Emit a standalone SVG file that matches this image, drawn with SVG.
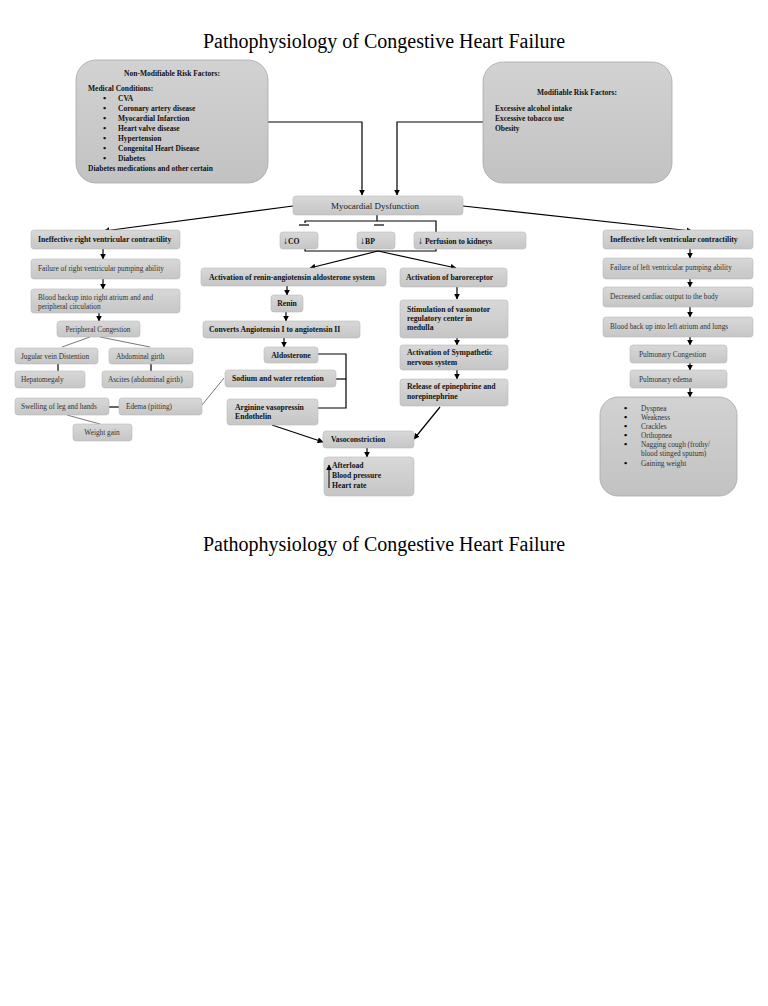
<svg xmlns="http://www.w3.org/2000/svg" width="768" height="1006" viewBox="0 0 768 1006">
<defs>
<linearGradient id="g" x1="0" y1="0" x2="0" y2="1">
<stop offset="0" stop-color="#d8d8d8"/>
<stop offset="1" stop-color="#c6c6c6"/>
</linearGradient>
<linearGradient id="gb" x1="0" y1="0" x2="0" y2="1">
<stop offset="0" stop-color="#d2d2d2"/>
<stop offset="1" stop-color="#c2c2c2"/>
</linearGradient>
<marker id="ar" viewBox="0 0 10 10" refX="9" refY="5" markerWidth="6" markerHeight="6" markerUnits="userSpaceOnUse" orient="auto">
<path d="M0,0 L10,5 L0,10 z" fill="#000"/>
</marker>
</defs>
<style>
.t{font-family:"Liberation Serif","Times New Roman",serif;fill:#000}
.title{font-size:20px}
.n rect{fill:url(#g);stroke:#b8b8b8;stroke-width:0.6}
.big rect{fill:url(#gb);stroke:#a8a8a8;stroke-width:0.8}
.s{font-size:7.3px;fill:#333}
.m{font-size:9px;fill:#222}
.b{font-size:7.7px;font-weight:bold;fill:#111}
.bb{font-size:7.5px;font-weight:bold;fill:#111}
.dot{font-size:9px;font-weight:bold}
.ua{font-size:10px;font-weight:bold}
.c line,.c polyline,.c path{stroke:#000;stroke-width:1.2;fill:none}
.c .a{marker-end:url(#ar)}
.c .thin{stroke:#555;stroke-width:0.8}
</style>
<rect width="768" height="1006" fill="#fff"/>
<text class="t title" x="384" y="48" text-anchor="middle">Pathophysiology of Congestive Heart Failure</text>
<text class="t title" x="384" y="551" text-anchor="middle">Pathophysiology of Congestive Heart Failure</text>

<g id="connectors" class="c">
<polyline class="a" points="268,122 362,122 362,195"/>
<polyline class="a" points="483,122 397,122 397,195"/>
<line class="a" x1="293" y1="206" x2="104" y2="231"/>
<line class="a" x1="463" y1="206" x2="692" y2="231"/>
<line x1="377" y1="215" x2="377" y2="221"/>
<polyline points="305,223 305,221 436,221 436,232"/>
<line x1="299" y1="225" x2="309" y2="225"/>
<line x1="374" y1="225" x2="384" y2="225"/>
<polyline points="305,249 305,251 436,251 436,249"/>
<line class="a" x1="378" y1="251" x2="310" y2="268"/>
<line class="a" x1="378" y1="251" x2="456" y2="268"/>
<line class="a" x1="103" y1="249" x2="103" y2="259"/>
<line class="a" x1="103" y1="279" x2="103" y2="289"/>
<line class="a" x1="99" y1="313" x2="99" y2="321"/>
<line class="thin" x1="90" y1="337" x2="62" y2="347"/>
<line class="thin" x1="100" y1="337" x2="150" y2="347"/>
<line x1="58" y1="364" x2="58" y2="371"/>
<line x1="151" y1="364" x2="151" y2="371"/>
<line x1="109" y1="407" x2="119" y2="407"/>
<line class="thin" x1="67" y1="415" x2="100" y2="424"/>
<line class="thin" x1="202" y1="405" x2="224" y2="378"/>
<line class="a" x1="287" y1="286" x2="287" y2="295"/>
<line class="a" x1="286" y1="312" x2="286" y2="321"/>
<line class="a" x1="284" y1="338" x2="284" y2="347"/>
<polyline points="318,354 346,354 346,408 318,408"/>
<line x1="336" y1="379" x2="346" y2="379"/>
<line class="a" x1="272" y1="425" x2="323" y2="442"/>
<line class="a" x1="440" y1="407" x2="414" y2="439"/>
<line class="a" x1="367" y1="448" x2="367" y2="457"/>
<line class="a" x1="457" y1="287" x2="457" y2="299"/>
<line class="a" x1="457" y1="338" x2="457" y2="345"/>
<line class="a" x1="457" y1="370" x2="457" y2="379"/>
<line class="a" x1="690" y1="249" x2="690" y2="258"/>
<line class="a" x1="690" y1="279" x2="690" y2="287"/>
<line class="a" x1="690" y1="307" x2="690" y2="317"/>
<line class="a" x1="690" y1="337" x2="690" y2="345"/>
<line class="a" x1="690" y1="363" x2="690" y2="370"/>
<line class="a" x1="690" y1="388" x2="690" y2="397"/>
</g>

<g id="non-modifiable" class="big">
<rect x="76" y="60" width="192" height="123" rx="20"/>
<text class="t bb" x="172" y="76" text-anchor="middle">Non-Modifiable Risk Factors:</text>
<text class="t bb" x="88" y="91">Medical Conditions:</text>
<g class="t bb">
<text class="dot" x="103" y="101">•</text><text x="118" y="101">CVA</text>
<text class="dot" x="103" y="111">•</text><text x="118" y="111">Coronary artery disease</text>
<text class="dot" x="103" y="121">•</text><text x="118" y="121">Myocardial Infarction</text>
<text class="dot" x="103" y="131">•</text><text x="118" y="131">Heart valve disease</text>
<text class="dot" x="103" y="141">•</text><text x="118" y="141">Hypertension</text>
<text class="dot" x="103" y="151">•</text><text x="118" y="151">Congenital Heart Disease</text>
<text class="dot" x="103" y="161">•</text><text x="118" y="161">Diabetes</text>
</g>
<text class="t bb" x="88" y="171">Diabetes medications and other certain</text>
</g>

<g id="modifiable" class="big">
<rect x="483" y="62" width="189" height="121" rx="20"/>
<text class="t bb" x="577" y="95" text-anchor="middle">Modifiable Risk Factors:</text>
<text class="t bb" x="495" y="111">Excessive alcohol intake</text>
<text class="t bb" x="495" y="121">Excessive tobacco use</text>
<text class="t bb" x="495" y="131">Obesity</text>
</g>

<g id="myocardial" class="n">
<rect x="293" y="196" width="170" height="19" rx="3"/>
<text class="t m" x="375" y="209" text-anchor="middle">Myocardial Dysfunction</text>
</g>
<g id="co" class="n">
<rect x="280" y="232" width="38" height="17" rx="3"/>
<text class="t b" x="283" y="244"><tspan class="ua">↓</tspan>CO</text>
</g>
<g id="bp" class="n">
<rect x="357" y="232" width="38" height="17" rx="3"/>
<text class="t b" x="360" y="244"><tspan class="ua">↓</tspan>BP</text>
</g>
<g id="perfusion" class="n">
<rect x="414" y="232" width="112" height="17" rx="3"/>
<text class="t b" x="418" y="244"><tspan class="ua">↓</tspan> Perfusion to kidneys</text>
</g>

<g id="right-contract" class="n">
<rect x="31" y="230" width="149" height="19" rx="3"/>
<text class="t b" x="38" y="242">Ineffective right ventricular contractility</text>
</g>
<g id="right-failure" class="n">
<rect x="31" y="259" width="149" height="20" rx="3"/>
<text class="t s" x="38" y="271">Failure of right ventricular pumping ability</text>
</g>
<g id="blood-backup" class="n">
<rect x="31" y="289" width="149" height="24" rx="3"/>
<text class="t s" x="38" y="300">Blood backup into right atrium and and</text>
<text class="t s" x="38" y="309">peripheral circulation</text>
</g>
<g id="peripheral" class="n">
<rect x="57" y="321" width="83" height="16" rx="3"/>
<text class="t s" x="98" y="332" text-anchor="middle">Peripheral Congestion</text>
</g>
<g id="jugular" class="n">
<rect x="15" y="348" width="83" height="16" rx="3"/>
<text class="t s" x="21" y="359">Jugular vein Distention</text>
</g>
<g id="abdominal" class="n">
<rect x="109" y="348" width="84" height="16" rx="3"/>
<text class="t s" x="116" y="359">Abdominal girth</text>
</g>
<g id="hepatomegaly" class="n">
<rect x="15" y="371" width="70" height="17" rx="3"/>
<text class="t s" x="21" y="382">Hepatomegaly</text>
</g>
<g id="ascites" class="n">
<rect x="102" y="371" width="91" height="17" rx="3"/>
<text class="t s" x="108" y="382">Ascites (abdominal girth)</text>
</g>
<g id="swelling" class="n">
<rect x="15" y="398" width="94" height="17" rx="3"/>
<text class="t s" x="21" y="409">Swelling of leg and hands</text>
</g>
<g id="edema" class="n">
<rect x="119" y="398" width="83" height="17" rx="3"/>
<text class="t s" x="126" y="409">Edema (pitting)</text>
</g>
<g id="weight-gain" class="n">
<rect x="73" y="424" width="59" height="17" rx="3"/>
<text class="t s" x="102" y="435" text-anchor="middle">Weight gain</text>
</g>

<g id="raas" class="n">
<rect x="201" y="268" width="185" height="18" rx="3"/>
<text class="t b" x="209" y="280">Activation of renin-angiotensin aldosterone system</text>
</g>
<g id="renin" class="n">
<rect x="271" y="295" width="32" height="17" rx="3"/>
<text class="t b" x="287" y="306" text-anchor="middle">Renin</text>
</g>
<g id="converts" class="n">
<rect x="203" y="321" width="157" height="17" rx="3"/>
<text class="t b" x="209" y="332">Converts Angiotensin I to angiotensin II</text>
</g>
<g id="aldosterone" class="n">
<rect x="264" y="347" width="54" height="16" rx="3"/>
<text class="t b" x="291" y="358" text-anchor="middle">Aldosterone</text>
</g>
<g id="sodium" class="n">
<rect x="225" y="370" width="111" height="17" rx="3"/>
<text class="t b" x="232" y="381">Sodium and water retention</text>
</g>
<g id="arginine" class="n">
<rect x="227" y="399" width="91" height="26" rx="3"/>
<text class="t b" x="235" y="410">Arginine vasopressin</text>
<text class="t b" x="235" y="419">Endothelin</text>
</g>
<g id="vasoconstriction" class="n">
<rect x="323" y="431" width="91" height="17" rx="3"/>
<text class="t b" x="331" y="442">Vasoconstriction</text>
</g>
<g id="afterload" class="n">
<rect x="324" y="457" width="90" height="39" rx="4"/>
<line x1="329" y1="488" x2="329" y2="465" stroke="#000" stroke-width="1" marker-end="url(#ar)"/>
<text class="t b" x="332" y="468">Afterload</text>
<text class="t b" x="332" y="478">Blood pressure</text>
<text class="t b" x="332" y="488">Heart rate</text>
</g>

<g id="baroreceptor" class="n">
<rect x="400" y="268" width="107" height="19" rx="3"/>
<text class="t b" x="406" y="280">Activation of baroreceptor</text>
</g>
<g id="vasomotor" class="n">
<rect x="400" y="300" width="108" height="38" rx="3"/>
<text class="t b" x="407" y="312">Stimulation of vasomotor</text>
<text class="t b" x="407" y="321">regulatory center in</text>
<text class="t b" x="407" y="330">medulla</text>
</g>
<g id="sympathetic" class="n">
<rect x="400" y="345" width="108" height="25" rx="3"/>
<text class="t b" x="407" y="355">Activation of Sympathetic</text>
<text class="t b" x="407" y="365">nervous system</text>
</g>
<g id="epinephrine" class="n">
<rect x="400" y="379" width="108" height="27" rx="3"/>
<text class="t b" x="407" y="389">Release of epinephrine and</text>
<text class="t b" x="407" y="399">norepinephrine</text>
</g>

<g id="left-contract" class="n">
<rect x="603" y="230" width="150" height="19" rx="3"/>
<text class="t b" x="610" y="242">Ineffective left ventricular contractility</text>
</g>
<g id="left-failure" class="n">
<rect x="603" y="258" width="150" height="21" rx="3"/>
<text class="t s" x="610" y="270">Failure of left ventricular pumping ability</text>
</g>
<g id="cardiac-output" class="n">
<rect x="603" y="287" width="150" height="20" rx="3"/>
<text class="t s" x="610" y="299">Decreased cardiac output to the body</text>
</g>
<g id="blood-back" class="n">
<rect x="603" y="317" width="150" height="20" rx="3"/>
<text class="t s" x="610" y="329">Blood back up into left atrium and lungs</text>
</g>
<g id="pulm-congestion" class="n">
<rect x="630" y="345" width="97" height="18" rx="3"/>
<text class="t s" x="639" y="357">Pulmonary Congestion</text>
</g>
<g id="pulm-edema" class="n">
<rect x="630" y="370" width="97" height="18" rx="3"/>
<text class="t s" x="639" y="382">Pulmonary edema</text>
</g>
<g id="symptoms" class="big">
<rect x="600" y="397" width="137" height="99" rx="18"/>
<g class="t s">
<text class="dot" x="624" y="411" fill="#000">•</text><text x="641" y="411">Dyspnea</text>
<text class="dot" x="624" y="420" fill="#000">•</text><text x="641" y="420">Weakness</text>
<text class="dot" x="624" y="429" fill="#000">•</text><text x="641" y="429">Crackles</text>
<text class="dot" x="624" y="438" fill="#000">•</text><text x="641" y="438">Orthopnea</text>
<text class="dot" x="624" y="447" fill="#000">•</text><text x="641" y="447">Nagging cough (frothy/</text>
<text x="641" y="456">blood stinged sputum)</text>
<text class="dot" x="624" y="466" fill="#000">•</text><text x="641" y="466">Gaining weight</text>
</g>
</g>
</svg>
